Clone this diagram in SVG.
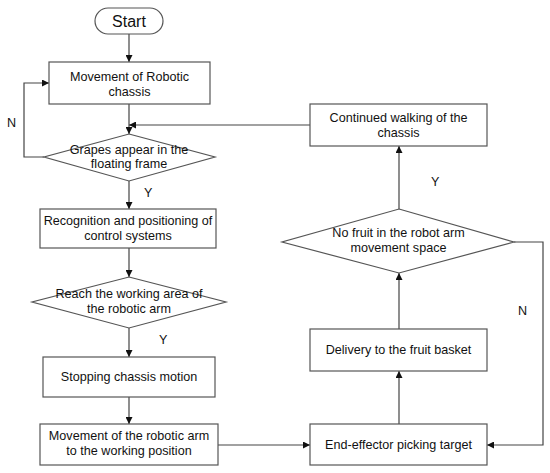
<svg xmlns="http://www.w3.org/2000/svg" width="550" height="473" viewBox="0 0 550 473">
<defs>
<marker id="ah" viewBox="0 0 10 10" refX="10" refY="5" markerWidth="7" markerHeight="7" markerUnits="userSpaceOnUse" orient="auto">
<path d="M0,0 L10,5 L0,10 z" fill="#111"/>
</marker>
<style>
.n{fill:#fff;stroke:#555;stroke-width:1.2}
.t{font-family:"Liberation Sans",Arial,sans-serif;font-size:12.6px;fill:#111;text-anchor:middle}
.l{font-family:"Liberation Sans",Arial,sans-serif;font-size:12.6px;fill:#111}
.c{fill:none;stroke:#444;stroke-width:1.2;marker-end:url(#ah)}
</style>
</defs>
<rect width="550" height="473" fill="#fff"/>
<g id="connectors">
<line class="c" x1="129" y1="34" x2="129" y2="62"/>
<line class="c" x1="129" y1="104" x2="129" y2="134"/>
<polyline class="c" points="44,157 24,157 24,83 49,83"/>
<line class="c" x1="129" y1="181" x2="129" y2="209"/>
<line class="c" x1="129" y1="248" x2="129" y2="277"/>
<line class="c" x1="129" y1="328" x2="129" y2="357"/>
<line class="c" x1="129" y1="397" x2="129" y2="424"/>
<line class="c" x1="218" y1="445" x2="310" y2="445"/>
<line class="c" x1="399" y1="424" x2="399" y2="371"/>
<line class="c" x1="399" y1="329" x2="399" y2="273"/>
<line class="c" x1="399" y1="209" x2="399" y2="146"/>
<line class="c" x1="310" y1="125" x2="129" y2="125"/>
<polyline class="c" points="514,242 543,242 543,445 487,445"/>
<text class="l" x="7" y="127">N</text>
<text class="l" x="144" y="197">Y</text>
<text class="l" x="159" y="344">Y</text>
<text class="l" x="431" y="186">Y</text>
<text class="l" x="518" y="315">N</text>
</g>
<g id="start">
<rect class="n" x="95" y="8" width="68" height="26" rx="13"/>
<text class="t" x="129" y="27" style="font-size:16px">Start</text>
</g>
<g id="box1">
<rect class="n" x="49" y="62" width="161" height="42"/>
<text class="t" x="129.5" y="81">Movement of Robotic</text>
<text class="t" x="129.5" y="96">chassis</text>
</g>
<g id="dec1">
<polygon class="n" points="129,134 215,157 129,181 44,157"/>
<text class="t" x="129" y="154">Grapes appear in the</text>
<text class="t" x="129" y="168">floating frame</text>
</g>
<g id="box2">
<rect class="n" x="40" y="209" width="176" height="39"/>
<text class="t" x="128" y="225">Recognition and positioning of</text>
<text class="t" x="128" y="240">control systems</text>
</g>
<g id="dec2">
<polygon class="n" points="129,277 226,302 129,328 32,302"/>
<text class="t" x="129" y="298">Reach the working area of</text>
<text class="t" x="129" y="313">the robotic arm</text>
</g>
<g id="box3">
<rect class="n" x="43" y="357" width="172" height="40"/>
<text class="t" x="129" y="381">Stopping chassis motion</text>
</g>
<g id="box4">
<rect class="n" x="40" y="424" width="178" height="41"/>
<text class="t" x="129" y="440">Movement of  the robotic arm</text>
<text class="t" x="129" y="455">to the working position</text>
</g>
<g id="box5">
<rect class="n" x="310" y="424" width="177" height="41"/>
<text class="t" x="398.5" y="449">End-effector picking target</text>
</g>
<g id="box6">
<rect class="n" x="310" y="329" width="177" height="42"/>
<text class="t" x="398.5" y="354">Delivery to the fruit basket</text>
</g>
<g id="dec3">
<polygon class="n" points="399,209 514,242 399,273 282,242"/>
<text class="t" x="398.5" y="237">No fruit in the robot arm</text>
<text class="t" x="398.5" y="252">movement space</text>
</g>
<g id="box7">
<rect class="n" x="310" y="104" width="177" height="42"/>
<text class="t" x="398.5" y="122">Continued walking of the</text>
<text class="t" x="398.5" y="137">chassis</text>
</g>
</svg>
